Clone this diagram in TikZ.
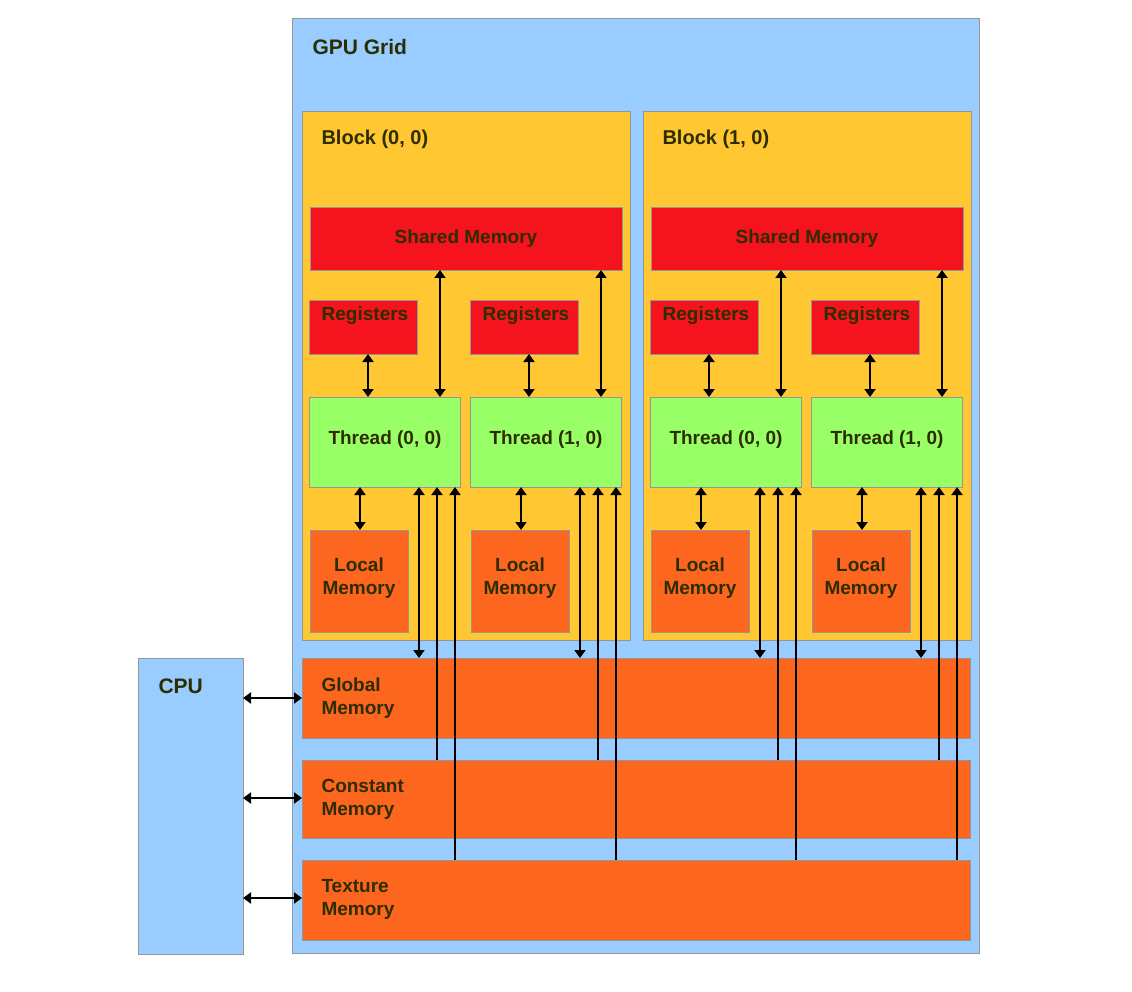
\documentclass[tikz,border=0pt]{standalone}
\usepackage{fontspec}
\setmainfont{Liberation Sans}
\usetikzlibrary{arrows.meta}
\definecolor{gridblue}{RGB}{153,204,255}
\definecolor{blockyel}{RGB}{255,200,50}
\definecolor{memred}{RGB}{245,20,30}
\definecolor{thrgreen}{RGB}{153,255,102}
\definecolor{memorange}{RGB}{252,102,30}
\definecolor{txt}{RGB}{45,45,0}
\definecolor{edge}{RGB}{150,150,150}
\begin{document}
\begin{tikzpicture}[x=1pt,y=-1pt,
  box/.style={draw=edge,line width=1pt},
  lab/.style={text=txt,font=\bfseries\fontsize{19}{23}\selectfont},
  arr/.style={line width=2.2pt,{Triangle[width=11pt,length=8pt]}-{Triangle[width=11pt,length=8pt]}},
  up/.style={line width=2.2pt,-{Triangle[width=11pt,length=8pt]}},
  dn/.style={line width=2.2pt,{Triangle[width=11pt,length=8pt]}-{Triangle[width=11pt,length=8pt]}}]
\useasboundingbox (0,0) rectangle (1132,992);
\fill[white] (0,0) rectangle (1132,992);
% grid and CPU
\draw[box,fill=gridblue] (292,19) rectangle (979,953);
\node[lab,anchor=west,font=\bfseries\fontsize{21}{25}\selectfont] (gt) at (309,47) {GPU Grid};
\draw[box,fill=gridblue] (138,658) rectangle (243,954);
\node[lab,anchor=west,font=\bfseries\fontsize{21}{25}\selectfont] (cput) at (155,686) {CPU};
% global memories
\node[box,fill=memorange,minimum width=668pt,minimum height=80pt,anchor=north west,inner sep=0] (glob) at (302,658) {};
\node[box,fill=memorange,minimum width=668pt,minimum height=78pt,anchor=north west,inner sep=0] (const) at (302,760) {};
\node[box,fill=memorange,minimum width=668pt,minimum height=80pt,anchor=north west,inner sep=0] (tex) at (302,860) {};
\node[lab,anchor=west,align=left] at (318,698) {Global\\Memory};
\node[lab,anchor=west,align=left] at (318,799) {Constant\\Memory};
\node[lab,anchor=west,align=left] at (318,899) {Texture\\Memory};
\coordinate (c1) at (243,698); \coordinate (g1) at (302,698);
\coordinate (c2) at (243,798); \coordinate (g2) at (302,798);
\coordinate (c3) at (243,898); \coordinate (g3) at (302,898);
\draw[arr] (c1) -- (g1);
\draw[arr] (c2) -- (g2);
\draw[arr] (c3) -- (g3);
\foreach \b/\bx in {0/0,1/341}{
  \begin{scope}[xshift=\bx]
  \node[box,fill=blockyel,minimum width=328pt,minimum height=529pt,anchor=north west,inner sep=0] (blk\b) at (302,111) {};
  \node[lab,anchor=west,font=\bfseries\fontsize{20}{24}\selectfont] at (318,139) {Block (\b, 0)};
  \node[box,fill=memred,minimum width=312pt,minimum height=63pt,anchor=north west,inner sep=0] (sh\b) at (310,207) {};
  \node[lab] at (466,239) {Shared Memory};
  \foreach \t/\tx in {0/0,1/161}{
    \begin{scope}[xshift=\tx]
    \node[box,fill=memred,minimum width=108pt,minimum height=54pt,anchor=north west,inner sep=0] (reg\b\t) at (309,300) {};
    \node[lab] at (365,316) {Registers};
    \node[box,fill=thrgreen,minimum width=151pt,minimum height=90pt,anchor=north west,inner sep=0] (th\b\t) at (309,397) {};
    \node[lab] at (385,440) {Thread (\t, 0)};
    \node[box,fill=memorange,minimum width=98pt,minimum height=102pt,anchor=north west,inner sep=0] (loc\b\t) at (310,530) {};
    \node[lab,align=center] at (359,578) {Local\\Memory};
    \draw[arr] (368,354) -- (368,397);
    \draw[arr] (360,487) -- (360,530);
    \draw[arr] (440,270) -- (440,397);
    \draw[arr] (419,487) -- (419,658);
    \draw[up] (437,760) -- (437,487);
    \draw[up] (455,860) -- (455,487);
    \end{scope}}
  \end{scope}}
\end{tikzpicture}
\end{document}
